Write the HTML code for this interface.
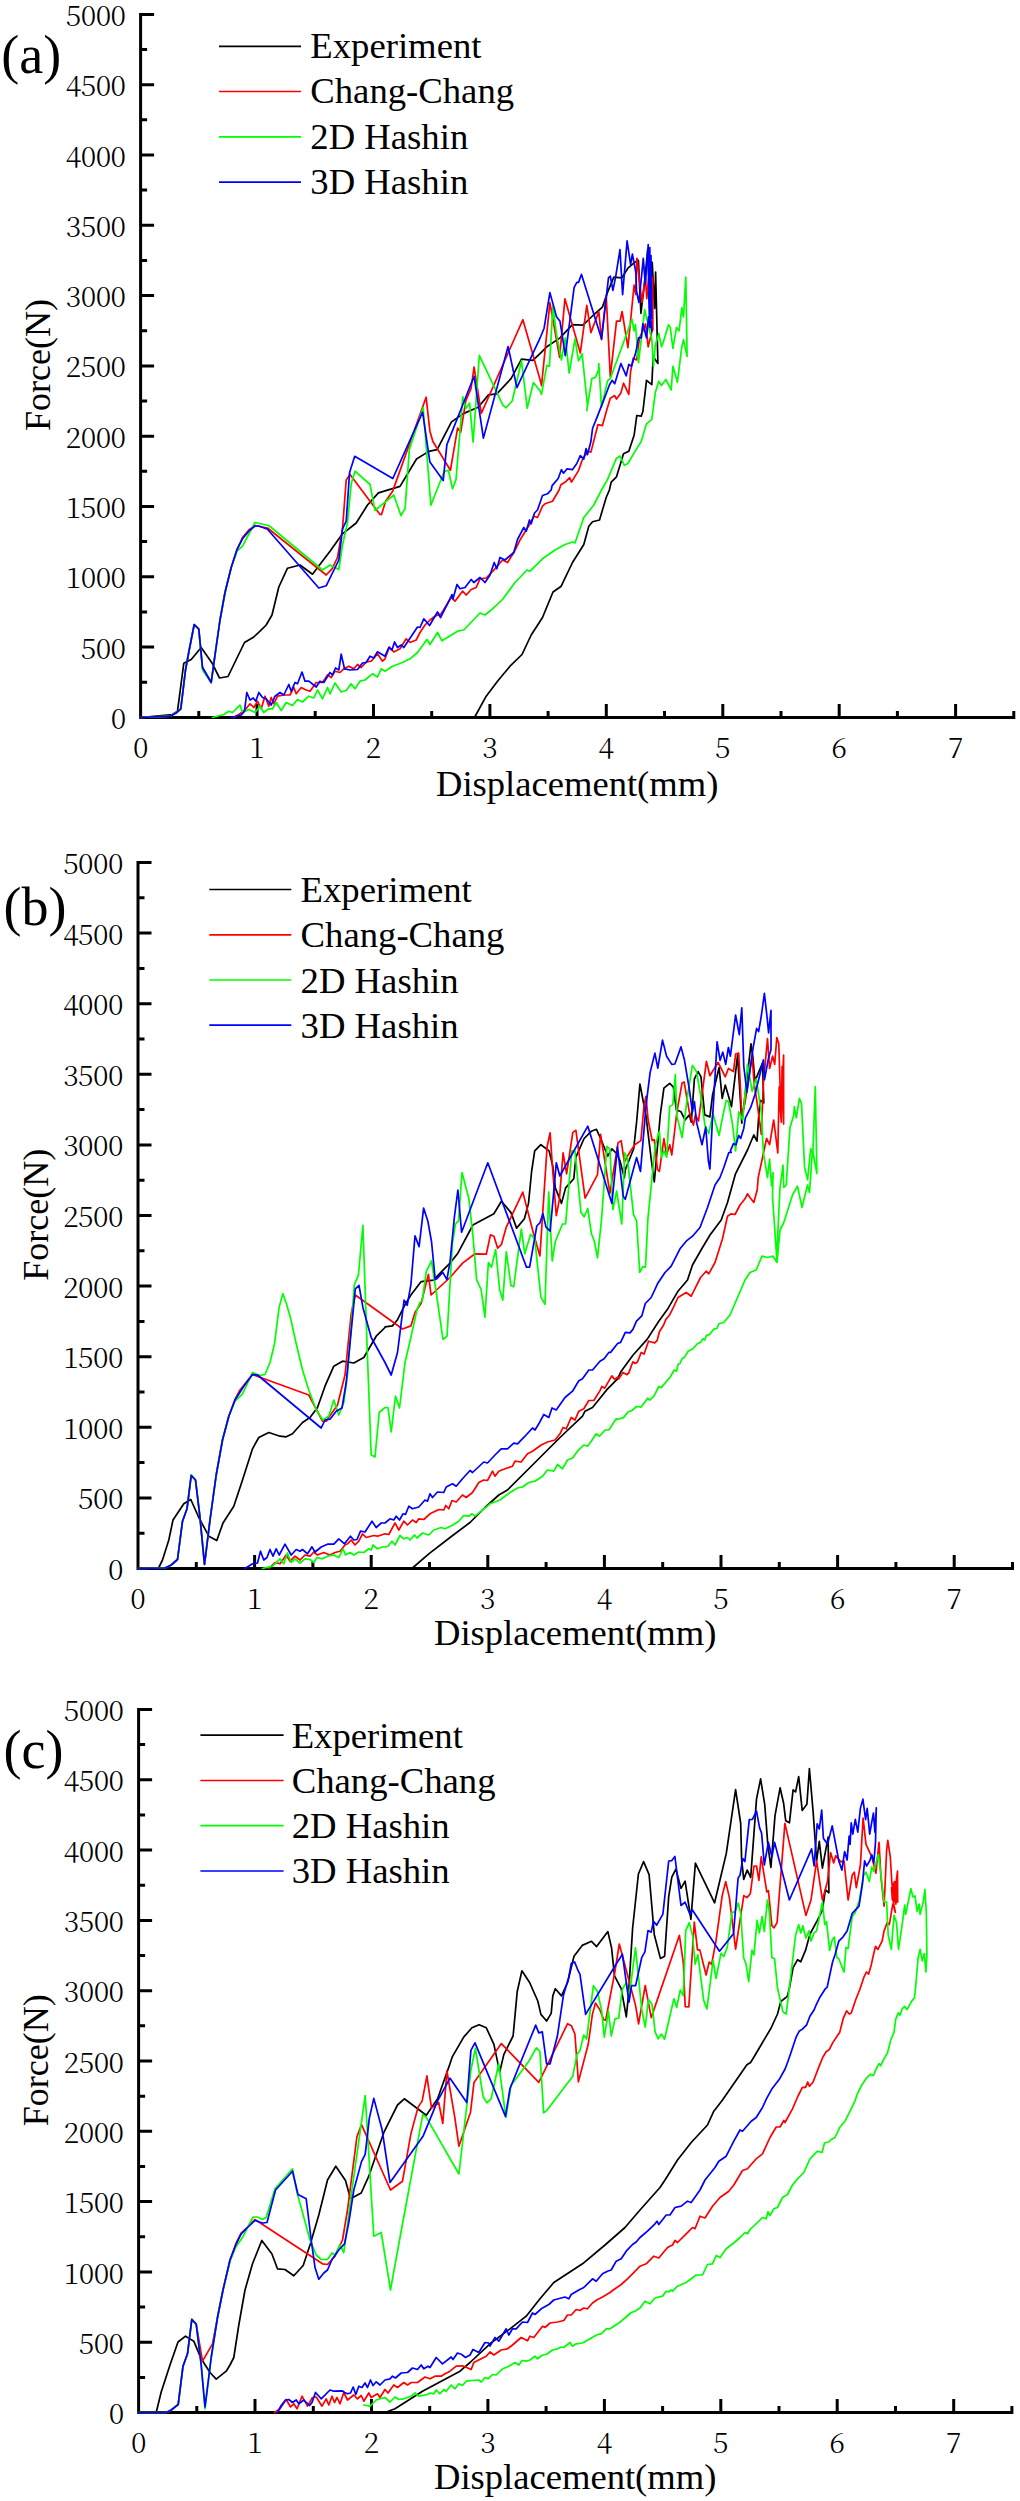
<!DOCTYPE html>
<html lang="en"><head><meta charset="utf-8"><title>Force-displacement curves</title>
<style>
html,body{margin:0;padding:0;background:#fff}
svg{display:block}
text{font-family:"Liberation Serif",serif;fill:#000}
.tk{font-family:"Noto Serif CJK SC","Liberation Serif",serif;font-weight:300;font-size:28.5px;letter-spacing:-0.45px}
.ttl{font-size:36.6px}
.yt{font-size:36px}
.lg{font-size:36.7px}
.tag{font-size:54px}
.ax{stroke:#000;stroke-width:3;fill:none;stroke-linecap:butt}
.cv{fill:none;stroke-width:1.7;stroke-linejoin:round;stroke-linecap:round}
</style></head><body>
<svg width="1020" height="2501" viewBox="0 0 1020 2501">
<rect width="1020" height="2501" fill="#fff"/>
<g id="chart0">
<path class="ax" d="M140.6,12.9V718.9M139.1,717.4H1015.3M140.6,682.2h6.5M140.6,647.1h13.5M140.6,611.9h6.5M140.6,576.8h13.5M140.6,541.6h6.5M140.6,506.5h13.5M140.6,471.3h6.5M140.6,436.2h13.5M140.6,401h6.5M140.6,365.9h13.5M140.6,330.7h6.5M140.6,295.6h13.5M140.6,260.4h6.5M140.6,225.3h13.5M140.6,190.1h6.5M140.6,155h13.5M140.6,119.8h6.5M140.6,84.7h13.5M140.6,49.5h6.5M140.6,14.4h13.5M198.8,717.4v-6.5M257,717.4v-13.5M315.2,717.4v-6.5M373.5,717.4v-13.5M431.7,717.4v-6.5M489.9,717.4v-13.5M548.1,717.4v-6.5M606.3,717.4v-13.5M664.5,717.4v-6.5M722.8,717.4v-13.5M781,717.4v-6.5M839.2,717.4v-13.5M897.4,717.4v-6.5M955.6,717.4v-13.5M1013.8,717.4v-6.5"/>
<polyline class="cv" stroke="#000000" points="140.5,717.5 172.5,714.5 177.5,711.2 183.8,663.2 191.2,659.5 201.2,647.5 212.5,663.8 219.5,678 228,676.5 244.5,642.5 253.8,637 260,631.2 266.2,625 272,615 278.8,587 287.5,568.2 300,565 312.5,574.2 330,551.2 342.5,533.8 356.2,523 367.5,505 378.4,492.9 400,486.4 416.5,459 428.8,451.4 437.1,449.7 451.5,421.9 463.8,413.4 478.2,407.2 488.5,394.9 496.8,393.8 511.2,378.4 521.5,359.2 532.8,360.3 540,353.7 546.8,346.8 560,337.9 572.4,324.7 582.9,325.2 593.5,315 602.4,307.1 607.6,292.1 613.8,277.1 621.8,277.9 627.9,268.2 634.1,262.9 638,260.3 638.4,260.4 640.9,313.3 644.3,284.9 647.7,249.6 649.2,288.8 652.2,262.4 654.6,308.4 655.6,272.2 657.9,363.5 653.2,356.5 651.8,384.7 646.5,380.3 642.9,411.5 641.2,416.2 636.8,415.5 634.1,435.3 628.8,451.2 623.5,453.8 616.5,476.8 611.2,482.1 609.4,490 606.2,497.5 599.5,520 592.5,521.8 588.8,526.2 583.8,544.5 572.5,562.5 561.2,586.2 553,592 542.5,617.5 531.2,635 522,654.5 510,666.2 497.5,681.2 486.2,696.2 474.5,717.5"/>
<polyline class="cv" stroke="#ff0000" points="140.5,717.5 170,716.2 176.2,712.5 180.8,708.8 185.5,670 189.2,650 194.2,624.5 198.8,629.2 202.5,667.5 211.2,682.5 215,655 220,620 225,592.5 231.2,567.5 237,549.5 242.5,537.5 248.8,530 255,525.5 267.5,528 326.2,575 332,568.8 337.5,557.5 342.5,528.8 346.2,480 350,474.5 380,514.5 381.5,514.6 385.6,501.2 392.8,490.9 426.1,397.2 429.9,431.2 432.9,441.5 450.4,470.3 457.6,428.1 460.7,432.2 465.9,400.3 471,388.7 474.1,367.1 481.3,413.4 522.9,319.7 540,379.4 541.5,385.6 549.9,302.6 559.6,357.4 564.9,298.8 580.3,352.9 586.8,305.3 590.9,332.6 598.8,311.5 601.5,339.7 606.2,295.6 610.3,376.8 616.5,321.2 620,321.2 622.1,311.5 627.9,347.6 634.1,285 635.9,294.7 636.8,258.5 637,258.4 641.9,302.5 645.3,277.1 646.8,298.6 649.2,271.2 652.8,279 652.8,330 652.1,330.9 648.2,346.8 645.6,323.8 642.9,330.9 639.4,337.9 636.8,360 633.2,358.2 630.6,371.5 628.8,394.4 623.5,383.2 620.9,392.9 616.5,399.1 614.7,395.6 610.3,398.2 606.8,409.7 602.4,425.6 597.9,424.7 590.9,452.1 588.2,451.2 582.9,458.2 578.5,470.6 571.5,482.1 569.7,477.6 565.3,482.1 560.9,484.7 559.1,490 552.5,501.2 545,503.8 542.5,506.2 537.5,517.5 533.8,516.2 530,523.8 526.2,530 520,540 513.8,552.5 507.5,562.5 502.5,560 495,568.8 486.2,578 480,578.8 476.2,587.5 471.2,589.5 466.2,595 462.5,591.2 455,601.2 451.2,597.5 441.2,613.8 435,616.2 430,620 425,625 420,632.5 416.2,640 410,642.5 406.2,638.8 400,648.8 393.8,652 389.5,647 385,658.8 382.5,661.2 377.5,653.8 371.2,661.2 366.2,662 361.2,667.5 357.5,664.5 353.8,668.8 348.8,666.2 343.8,668.8 340,672.5 335,671.2 331.2,677.5 327.5,675 322.5,682.5 316.2,682.5 310,691.2 305,689.5 301.2,687.5 296.2,693.8 293.8,687.5 290,695 283.8,695 277.5,696.2 273.8,703.8 271.2,697.5 268.8,706.2 265,696.2 261.2,708.8 257.5,701.2 253.8,707.5 250,703.8 245,710 240,713.8 233.8,717.5"/>
<polyline class="cv" stroke="#00ff00" points="140.5,717.5 170,716.2 176.2,713 180.8,708.8 185.5,670 189.2,650 194.2,624.5 198.8,629.2 202.5,670 211.2,682.5 215,655 220,620 225,592.5 231.2,567.5 237,551.2 242.5,546.2 255,522.5 268.8,525.5 322.5,570 330,565 338.8,569.5 342.5,545 347.5,522.5 351.2,483.8 355,471.2 370,484.5 375,510.5 393.8,495 401,515.6 405.1,508.4 409.3,449.7 423.1,407.5 430.9,505.3 444.3,471.3 448.4,470.3 452.5,488.8 456,479.6 462.8,396.9 465.9,408.2 469.6,403.1 473.1,442.2 479.3,355.3 502.9,405.1 506,407.8 512.2,401 521.5,360.9 527.2,408.2 533.4,382.5 540,390.7 541.5,394.4 546.8,365.3 549.4,366.2 552.9,306.2 556.5,334.4 561.4,360 565.3,337.9 569.2,373.2 575,338.8 578.5,360.9 582.1,353.8 587.4,405 586.8,410.6 591.8,378.8 595.6,377.1 598.5,370 598.8,363.5 601.5,407.1 607.6,380.6 610.3,378.5 632,319.4 634.1,330.9 635.5,324.7 638.5,362.6 644.7,309.7 651.8,339.7 653.5,366.2 655.3,345 658.8,333.5 661.5,346.8 663.2,342.4 668.5,324.7 670.3,327.4 672.9,348.5 676.5,327.4 679.1,330.9 681.8,307.9 683.5,316.8 685.8,277.1 687.1,356.5 683.5,339.7 681.8,346.8 677.4,382.1 672.9,366.2 671.2,390 665.9,379.4 661.5,385.6 658.8,381.2 655.3,392.6 651.8,419.4 646.5,423.8 641.2,441.5 634.1,452.9 627.9,463.5 624.4,465.3 620,456.1 616.5,458.2 607.6,479.4 601.5,490 593.8,505 583.8,517.5 575,543 572.5,542 565,544.5 555,550 542.5,558.8 530,571.2 527,570 515,582.5 502.5,599.5 492.5,608.8 485,615 480,613 463.8,630 457.5,631.2 442,640.8 437.5,632.5 430,644.5 427,639.5 417.5,652.5 410,658.8 402.5,662.5 392.5,666.2 385,671.2 381.2,668.8 377.5,677 372.5,673.8 365,680 360,681.2 355,688.8 351.2,683.8 346.2,690.5 341.2,692 335,683 330,693.8 327.5,687.5 322.5,698.8 317.5,690 313.8,698 308.8,696.2 302.5,702 297.5,699.5 292.5,705.5 286.2,702.5 281.2,710.5 276.2,702.5 272.5,708.8 268.8,708.8 263.8,712.5 260,706.2 255,712.5 248.8,709.5 242.5,712.5 240,705 236.2,708.8 232.5,712.5 228.8,711.2 223.8,714.5 212.5,717.5"/>
<polyline class="cv" stroke="#0000ff" points="140.5,717.5 170,716.2 176.2,713 180.8,708.8 185.5,670 189.2,650 194.2,624.5 198.8,629.2 202.5,667.5 211.2,682.5 215,655 220,620 225,592.5 231.2,567.5 237,549.5 242.5,538.8 248.8,531.2 255,526 258.8,526 267.5,529.2 318.8,588 326.2,585.8 338.8,560 342.5,528.8 346.2,521.2 349.6,472.4 354.7,456.3 392.8,478.5 422.6,412.2 429.9,462.1 443.2,480.6 446.9,444.6 474.1,376.3 483.4,438.1 508.1,346.5 516.9,387.6 540,338.2 544.1,328.2 549.9,292.6 556.5,316.8 560,321.2 565.3,355.6 574.1,287.6 576.8,282.4 578.5,282.4 581.5,274.4 601.5,338.8 608.5,277.9 610.3,276.2 612.9,290.3 615.6,277.1 620,249.7 622.6,294.7 627.1,240.9 630.6,264.7 632.4,254.1 635.9,272.6 636.5,290.8 638.9,302.5 643.3,258.4 645.3,284.9 648.2,244.7 649,298.6 649.8,247.6 650.4,310.4 651,255.5 651.6,318.2 650.7,284.9 649.7,327.1 648.7,292.7 651.8,330.9 648.6,316.8 646.5,337.9 642.9,323.8 641.2,337.9 638.5,337.9 635.9,352.1 631.5,366.2 628.8,364.4 626.2,375.9 620.9,363.5 614.7,383.8 612.1,380.3 609.4,385 604.1,399.1 596.2,419.4 592.6,428.2 590.9,441.5 587.4,454.7 586.1,448.5 583.8,459.1 580.3,455.6 576.8,463.5 572.4,469.7 567.1,468.8 563.5,473.2 561.4,469.7 558.2,478.5 552.1,485.6 551.2,490 550,491.2 547.5,493.8 542.5,495.5 537.5,510 534.5,513 531.2,523.8 529.5,520 526.2,531.2 523.8,527.5 517.5,539.5 513.8,552.5 505,560 500,557.5 496.8,568.8 494.2,562.5 490,575 485,582.5 480,577.5 473.8,582.5 471.2,579.5 465,587.5 460,588.8 457,584.5 453,598.8 452,594.5 447.5,603.8 440.5,617.5 437.5,612 429.5,625.5 423.8,618.8 420,627.5 417.5,627 403.8,647.5 401.2,645 397.5,647.5 394.5,642 392,650 388.8,647.5 385,656.2 377.5,651.8 373.8,658 370,656.2 366.2,662.5 362.5,663 357.5,669.5 350,670 344.5,668.8 341.2,654.2 338.8,670 335.5,668 332.5,675 330,672.5 323.8,682.5 320,681.2 316.2,687 308.8,681.2 305,681.2 302,672 297.5,683.8 295,682.5 291.2,691.2 288.8,684.5 283.8,695 280,692.5 275,696.2 271.2,705 266.2,698.8 262.5,697.5 258.8,692.5 255.8,701.2 253.2,698 250,700 246.8,692.5 244.5,711.2 241.2,715 231.2,717.5"/>
<text class="tk" x="125.6" y="728.9" text-anchor="end">0</text>
<text class="tk" x="125.6" y="658.6" text-anchor="end">500</text>
<text class="tk" x="125.6" y="588.3" text-anchor="end">1000</text>
<text class="tk" x="125.6" y="518" text-anchor="end">1500</text>
<text class="tk" x="125.6" y="447.7" text-anchor="end">2000</text>
<text class="tk" x="125.6" y="377.4" text-anchor="end">2500</text>
<text class="tk" x="125.6" y="307.1" text-anchor="end">3000</text>
<text class="tk" x="125.6" y="236.8" text-anchor="end">3500</text>
<text class="tk" x="125.6" y="166.5" text-anchor="end">4000</text>
<text class="tk" x="125.6" y="96.2" text-anchor="end">4500</text>
<text class="tk" x="125.6" y="25.9" text-anchor="end">5000</text>
<text class="tk" x="140.4" y="758" text-anchor="middle">0</text>
<text class="tk" x="256.8" y="758" text-anchor="middle">1</text>
<text class="tk" x="373.3" y="758" text-anchor="middle">2</text>
<text class="tk" x="489.7" y="758" text-anchor="middle">3</text>
<text class="tk" x="606.1" y="758" text-anchor="middle">4</text>
<text class="tk" x="722.6" y="758" text-anchor="middle">5</text>
<text class="tk" x="839" y="758" text-anchor="middle">6</text>
<text class="tk" x="955.4" y="758" text-anchor="middle">7</text>
<text class="ttl" x="577.2" y="795.5" text-anchor="middle">Displacement(mm)</text>
<text class="yt" transform="translate(50.1,365.1) rotate(-90)" text-anchor="middle">Force(N)</text>
<text class="tag" x="1.2" y="72.7">(a)</text>
<line x1="219" y1="46.3" x2="301" y2="46.3" stroke="#000000" stroke-width="1.7"/>
<text class="lg" x="310.3" y="58.1">Experiment</text>
<line x1="219" y1="91.5" x2="301" y2="91.5" stroke="#ff0000" stroke-width="1.7"/>
<text class="lg" x="310.3" y="103.3">Chang-Chang</text>
<line x1="219" y1="136.8" x2="301" y2="136.8" stroke="#00ff00" stroke-width="1.7"/>
<text class="lg" x="310.3" y="148.6">2D Hashin</text>
<line x1="219" y1="182.1" x2="301" y2="182.1" stroke="#0000ff" stroke-width="1.7"/>
<text class="lg" x="310.3" y="193.9">3D Hashin</text>
</g>
<g id="chart1">
<path class="ax" d="M138,861V1570M136.5,1568.5H1014M138,1533.2h6.5M138,1497.9h13.5M138,1462.6h6.5M138,1427.3h13.5M138,1392h6.5M138,1356.7h13.5M138,1321.4h6.5M138,1286.1h13.5M138,1250.8h6.5M138,1215.5h13.5M138,1180.2h6.5M138,1144.9h13.5M138,1109.6h6.5M138,1074.3h13.5M138,1039h6.5M138,1003.7h13.5M138,968.4h6.5M138,933.1h13.5M138,897.8h6.5M138,862.5h13.5M196.3,1568.5v-6.5M254.6,1568.5v-13.5M312.9,1568.5v-6.5M371.2,1568.5v-13.5M429.5,1568.5v-6.5M487.8,1568.5v-13.5M546.1,1568.5v-6.5M604.4,1568.5v-13.5M662.7,1568.5v-6.5M721,1568.5v-13.5M779.3,1568.5v-6.5M837.6,1568.5v-13.5M895.9,1568.5v-6.5M954.2,1568.5v-13.5M1012.5,1568.5v-6.5"/>
<polyline class="cv" stroke="#000000" points="138,1568.5 158.8,1567.5 162.5,1560 168.8,1540 173,1520 183.8,1503.8 190.8,1499.5 198.8,1517.5 208.8,1536.2 216.8,1540.5 223,1523 233.8,1506.2 242.5,1480 252.5,1448.8 258.8,1437.5 268.8,1432.5 280,1436.2 286.2,1436.8 292.5,1433.8 302.5,1422.5 310,1417.5 317.5,1407.5 325,1386.2 333.8,1366.2 342.5,1361.2 353.8,1363 363.8,1357.5 376.2,1336.2 385,1327.5 385.1,1326.9 392.4,1325.9 397.5,1319.7 404.7,1305.3 410.9,1295 421.2,1281.6 433.5,1280.2 442.8,1270.3 450,1263.1 457.5,1253.8 472.9,1225 482.2,1219.9 493.9,1213.7 501.4,1201.3 511,1212.6 516.6,1228.1 524.4,1218.8 528.5,1203.4 531.6,1171.5 534.7,1150.9 540.9,1144.7 549.1,1150.9 552.8,1166.3 555.3,1187.9 561.5,1203.4 565.6,1187.9 573.8,1178.7 575.9,1157.1 584.1,1138.5 591.3,1131.3 596.5,1129.3 600.6,1138.5 607.8,1156 611.9,1148.8 617.1,1154 620.1,1161.2 624.3,1177.6 625.4,1169.4 633.7,1148.8 636.8,1120 639.9,1084 646,1115.9 651.2,1159.1 654.3,1181.8 660.4,1113.8 663.9,1088.1 669.7,1083.4 673.4,1087.1 676.3,1109.7 681,1111.8 685.1,1120 689.3,1114.9 691.3,1122.1 694.4,1078.8 698.1,1071.6 701,1076.8 704.7,1114.9 709.9,1116.9 712.5,1095.3 719.1,1067.5 722.2,1098.4 725.3,1085 731.5,1106.6 737.6,1055.1 741.8,1123.1 751,1043.8 752.8,1056.4 754.9,1081.1 762.5,1063.2 763.8,1103 760.4,1100.3 758.8,1115 757,1141.2 753.8,1135 747.5,1150 735.5,1173.8 727.5,1202.5 721.2,1220 710,1235 702.5,1247.5 692.5,1265 687.5,1280 678,1291.2 668.2,1308.2 658.8,1321.2 647.1,1339.4 632.9,1355.3 621.2,1371.2 617.6,1378.8 607.1,1389.4 600,1398.2 592.5,1407.5 585,1411.2 582.5,1416.2 560,1437.5 535,1462.5 507.5,1490 498.8,1495 485,1507.5 470,1522.5 450,1537.5 428.8,1553.8 412.5,1568"/>
<polyline class="cv" stroke="#ff0000" points="138,1568.5 165,1568 171.2,1565 177.5,1559.5 182.5,1521.2 187,1508.8 191.2,1475.5 195.5,1480 200,1517.5 204.5,1564.5 210,1520 216.2,1475 222.5,1440 228.8,1416.2 235,1399.5 240,1390 245,1383.8 252.5,1374.5 308.8,1395 322.5,1421.2 326.2,1421.2 337.5,1405 345,1375 351.2,1313.5 355.3,1295 402.6,1329 410.9,1325.9 415,1312.5 421.2,1303.2 426.3,1282.6 428.4,1274.4 431.1,1295 450,1277.5 462.6,1263.1 475,1253.8 486.3,1254.2 490.4,1234.9 493.9,1236.3 497.6,1248.1 501.4,1244.6 506.3,1227.1 522.8,1192.1 533.7,1234.3 539.9,1255.9 547.1,1146.8 550.1,1132.8 552.8,1171.5 556.3,1215.7 559.4,1199.3 563.1,1152.9 566.6,1173.9 572.8,1132.4 575.9,1130.3 585.1,1198.2 597.5,1174.6 600.6,1134.4 609.9,1193.1 618.1,1142.6 621.2,1140.6 624.3,1162.2 627.5,1156 634.7,1144.7 640.9,1140.6 644,1105.6 646,1096.3 648.1,1120 652.2,1140.6 654.3,1139.6 657.4,1169.4 659.4,1171.5 663.9,1138.5 666.6,1155 669.7,1144.7 671.8,1155 676.9,1111.8 682.1,1082.9 684.1,1081.9 689.3,1111.8 693.4,1125.1 695.4,1114.9 698.5,1121 706.4,1061.3 709.9,1075.7 718.1,1062.4 725.3,1076.8 728.4,1068.5 733.5,1071.6 735.6,1054.1 738.7,1053.1 741.8,1115.9 744.9,1103.5 752.1,1056.2 754.1,1082.9 757.2,1103.5 761.3,1134.4 763.4,1082.9 767.5,1038.7 769.6,1068.5 772.6,1056.2 774.7,1064.4 776.8,1037.6 778.8,1043.8 780.9,1111.8 783.6,1055.1 783.6,1124.1 782.1,1066.5 781.3,1122.1 780.5,1111.8 779.2,1087.1 777.8,1152.9 773.7,1120 769.6,1144.7 766.5,1138.5 761.3,1163.2 758.2,1177.6 757.2,1190 753.8,1202.5 750,1197.5 747.5,1193.8 745,1198.8 740,1205 735,1214.5 731.2,1213.8 727.5,1216.2 722.5,1238.8 715,1262.5 708.8,1273.8 706.2,1271.2 700.5,1277.5 696.2,1286.2 691.2,1296.2 686.2,1292.5 678,1297.5 673.5,1307.1 669.4,1315.3 665.9,1319.4 663.5,1325.3 659.4,1331.8 657.1,1340.6 654.7,1342.9 648.5,1341.2 644.1,1354.1 641.2,1352.4 637.6,1361.8 635.3,1363.5 632.9,1361.8 628.8,1372.9 627.1,1374.7 622.9,1372.4 618.8,1378.8 617.6,1377.1 614.7,1379.4 611.8,1375.9 604.7,1388.2 601.8,1386.5 600,1390.6 593.8,1400.5 588.8,1400.5 583.8,1408.8 578.8,1411.2 575,1420 571.2,1417.5 566.2,1428.8 563,1427.5 560,1433.8 555,1440 547.5,1442 541.2,1445 532.5,1451.2 527.5,1453.8 521.2,1462 515,1461.2 512.5,1466.2 505,1468.8 498.8,1471.2 495,1476.2 492.5,1471.2 487.5,1480.5 483.8,1480 478.8,1482.5 472.5,1492.5 466.2,1497.5 462.5,1495 456.2,1502 452,1500.5 448.8,1508.8 445.8,1505.5 443.8,1510 438.8,1509.5 430,1513.8 423.8,1519.5 418.8,1518.8 416.2,1522.5 412.5,1520 407.5,1525 403.8,1521.2 398.8,1530 395,1523 388.8,1534.5 385,1533.8 377.5,1536.2 373.8,1535.5 366.2,1537.5 362.5,1533.8 358.8,1541.2 355,1545 351.2,1540 347.5,1543.8 345,1545 340,1551.2 335,1552.5 330,1555 323.8,1552.5 317.5,1555 313.8,1552 310,1556.2 305,1555 300,1560 295,1556.2 290,1561.2 286.2,1555 280,1563.8 275,1562.5 268.8,1568.5"/>
<polyline class="cv" stroke="#00ff00" points="138,1568.5 165,1568 171.2,1565 177.5,1559.5 182.5,1521.2 187,1508.8 191.2,1474.5 195.5,1480 200,1517.5 204.5,1564.5 210,1520 216.2,1475 222.5,1440 228.8,1416.2 235,1401.2 242.5,1393.8 252.5,1372.5 260,1375.5 265,1374.5 270,1362.5 274.5,1343.8 279.1,1307.4 282.8,1293.6 286.3,1303.2 290.4,1317.6 296.2,1343.8 302.5,1370 308.8,1390 316.2,1410 323,1420 328.8,1416.2 333.8,1400 338.8,1415 343.8,1402.5 347.5,1375 354.3,1284.7 358.4,1275.4 362.9,1225.4 367.5,1357.5 371.2,1455 375,1457 379.2,1412.5 385,1407.5 388,1407.5 391.2,1432 395.5,1396.2 399.5,1408 405,1362.5 410,1341.2 417.1,1309.4 420.1,1302.2 422.2,1301.2 426.3,1271.3 431.5,1261 436.6,1295 443,1339.5 447,1336.2 452.4,1243.5 455.4,1224 458.5,1220.9 462,1172.5 468.8,1198.2 472.9,1235.3 476.6,1279.6 481.2,1289.9 484.9,1317.2 488.4,1262.5 491.5,1267.2 495.6,1249.7 499.7,1289.9 502.8,1300.1 506.3,1251.8 511,1285.7 513.7,1286.8 521.3,1229.1 524.8,1253.8 530.6,1234.3 534.7,1238.4 540.9,1297.1 545,1304.3 548.7,1192.1 552.2,1261 555.3,1241.5 562.5,1224 565.6,1224 571.8,1150.9 574.9,1150.9 581,1212.6 584.1,1216.8 587.8,1208.5 591.3,1233.2 594.4,1241.5 597.5,1257.9 601.6,1218.8 606.8,1146.4 609.9,1148.8 612.9,1209.6 616.6,1191 621.8,1224 624.7,1152.9 627.4,1158.1 633.5,1214.7 636.6,1220.9 639.7,1272.4 642.8,1266.6 645.5,1267.2 647.9,1218.8 655.3,1144.7 659.4,1131.3 661.5,1157.1 663.9,1150.9 666.6,1157.1 669.7,1106.6 672.8,1104.6 675.3,1074.7 676.9,1115.9 682.1,1137.5 688.2,1091.2 692.4,1065.4 696.5,1071.6 700.6,1095.3 705.1,1126.2 708.8,1133.4 712.9,1113.8 719.1,1135.4 722.8,1115.9 726.3,1100.4 728.4,1101.5 732.5,1124.1 735.6,1150.9 738.7,1111.8 742.8,1120 747.5,1064.4 752.1,1091.2 756.2,1078.8 761.3,1111.8 763.4,1152.9 767.5,1177.6 769.6,1159.1 771.6,1185.9 773.1,1172.5 772.5,1196.2 777,1262.5 777,1250 780,1187.5 783,1165 783.8,1187.5 786.2,1185 790,1127.5 793.8,1115 794.3,1106.6 796.3,1117.9 799.4,1098.4 801.5,1103.5 804.6,1167.4 807.6,1179.7 810.7,1148.8 812.8,1155 815.3,1086.6 816.9,1173.5 812.5,1150 809.5,1192.5 807.5,1185 802,1207.5 797.5,1186.2 792.5,1195 783.8,1222.5 780,1230 777,1262.5 773,1256.2 767.5,1257.5 762,1256.2 756.2,1270 750,1272.5 745,1280 737.5,1297.5 730,1315 723.8,1322.5 718.8,1323.8 717.1,1328.2 713.5,1329.4 709.4,1334.7 706.5,1335.3 704.7,1340 702.9,1338.8 700.6,1342.4 697.6,1343.5 692.9,1348.8 688.2,1351.2 684.1,1357.6 682.4,1358.2 680,1363.5 678.2,1364.1 676.5,1371.2 674.1,1370 670.6,1376.5 661.2,1387.6 658.8,1386.5 654.1,1395.9 650,1400 647.6,1398.2 641.2,1407.1 636.5,1406.5 631.8,1410.6 628.2,1411.8 623.5,1417.6 615.3,1420 616.2,1418.8 608.8,1430 605,1430 599.5,1436.2 596.2,1433.8 591.2,1441.2 587.5,1446.2 583.8,1445 577.5,1451.2 572.5,1458 567.5,1460 562.5,1468.8 557.5,1464.5 553.8,1471.2 547.5,1470 542.5,1476.2 535,1481.2 528.8,1482.5 522.5,1487 517.5,1488 510,1492.5 500,1500 490,1503.8 483.8,1508.8 475,1516.2 472,1513.8 468.8,1516.2 463.8,1515.5 458.8,1521.2 452,1525.5 445,1528.8 441.2,1527.5 433.8,1530 428.8,1535 422.5,1533 417,1538 414.5,1535 410,1540 407.5,1537.5 403.8,1538.8 400,1535.5 395,1545 392,1541.2 388,1546.2 385,1547 382.5,1547 377.5,1548.8 373,1545 371.2,1550 368.8,1548.8 363.8,1552.5 358.8,1552 353.8,1555 350,1552.5 345.5,1555 343,1548.8 338.8,1557.5 333.8,1555 327.5,1556.2 322.5,1558.8 317,1557.5 313.8,1562.5 310,1559.5 305,1558.8 300,1563 295,1558.8 291.2,1562.5 287.5,1553 283.8,1563.8 280,1558.8 272.5,1566.2 262.5,1568.5"/>
<polyline class="cv" stroke="#0000ff" points="138,1568.5 165,1568 171.2,1565 177.5,1559.5 182.5,1521.2 187,1508.8 191.2,1475.5 195.5,1480 200,1517.5 204.5,1564.5 210,1520 216.2,1475 222.5,1440 228.8,1416.2 235,1400 243.8,1386.2 252.5,1374.5 257.5,1375 321.2,1428 325,1420 330,1419.2 336.2,1411.2 342,1408 346.2,1382.5 355.3,1288.8 359,1285.3 362.9,1307.4 371.2,1337.5 385,1362.5 391.2,1375 397.5,1352.5 404.1,1300.1 407.2,1305.3 410.9,1284.7 415,1235.9 419.1,1246.6 423.6,1208.1 427.8,1220.9 431.5,1241.5 435.2,1279.6 437.2,1278.5 442.8,1272.4 446.9,1279.6 450,1262.1 454.4,1216.8 457.9,1190 461.6,1232.2 487.8,1162.8 526.5,1267.2 529.6,1267.2 536.8,1226 539.9,1222.9 542.9,1213.7 546,1227.1 550.1,1231.2 552.8,1202.4 556.3,1162.8 559.8,1176 587.8,1126.2 611.9,1203.4 617.5,1146.8 623.2,1196.2 625.3,1199.3 636.6,1157.5 640.5,1171.5 646,1105.6 650.1,1072.6 654.9,1053.1 657.8,1068.1 662.5,1040.1 666.6,1056.2 671.8,1064.4 674.9,1064 681,1046.9 684.5,1060.3 689.3,1089.1 692.4,1111.8 694.4,1101.5 696.5,1122.1 702,1144.7 705.7,1127.2 708.4,1161.2 709.9,1169 712.3,1122.1 717.1,1041.8 720.1,1060.3 722.8,1052.1 725.7,1064.4 728.4,1047.5 730.4,1056.2 735.6,1015 739.3,1034.6 741.8,1007.8 743.8,1066.5 746.9,1092.2 753.1,1047.9 756.6,1028.4 758.6,1031.5 761.3,1016 764.4,993.4 767.3,1019.3 768.6,1033 771,1010.4 771,1049.5 768.6,1057.7 764.5,1079.7 763.4,1059.8 759,1078.3 754.9,1094.8 750.8,1107.2 745.3,1118.1 743.8,1128.2 740.7,1138.5 738.7,1135.4 736,1144.7 733.5,1143.7 730.4,1150.9 731.2,1152.5 728.8,1152.5 723.8,1167.5 720,1177.5 715,1185 707.5,1207.5 700,1227.5 692.5,1236.2 686.2,1241.2 680,1248.8 671.2,1266.2 665,1272.5 657.5,1283.8 651.2,1297.5 645.3,1303.5 641.8,1315.9 636.5,1321.2 632.9,1329.4 630,1332.9 625.3,1332.4 620.6,1342.4 617.6,1343.5 610.6,1352.4 608.8,1352.4 604.1,1358.8 600,1361.2 592.5,1370 588.8,1370 582.5,1378.8 578.8,1380.8 572.5,1391.2 565,1397.5 556.2,1410 552,1408 548.8,1417.5 543.8,1414.5 538.8,1423.8 535,1430 532.5,1428 525,1436.2 517.5,1443.8 513.8,1443.2 507.5,1448.8 501.2,1448.8 495,1455 487.5,1463 483.8,1462 472.5,1472.5 470,1470.5 462.5,1478.8 456.2,1486.2 452.5,1483.8 446.2,1487 443.8,1492.5 437.5,1492 432.5,1497.5 430,1493.8 427.5,1501.2 425,1500 418.8,1507 412.5,1508.8 408.8,1506.2 405.5,1514.5 403,1513.8 399.5,1520 396.2,1516.2 393.8,1520 390,1518.8 385,1523 381.2,1523 376.2,1527.5 372,1521.2 365,1532 360.5,1531.2 357,1539.5 353.8,1540 350.5,1536.2 344.5,1543.8 338.8,1538.8 333.8,1544.2 327.5,1544.2 321.2,1547 315,1552 312,1546.8 307.5,1553.8 302.5,1549.5 300,1551.2 296.2,1549.5 291.2,1555 285,1544.2 279.2,1555 276.2,1548.8 273,1556.2 270,1549.5 267,1557.5 263.8,1560 260.5,1551.2 257.5,1563 252.5,1563.8 245,1568.5"/>
<text class="tk" x="123" y="1580" text-anchor="end">0</text>
<text class="tk" x="123" y="1509.4" text-anchor="end">500</text>
<text class="tk" x="123" y="1438.8" text-anchor="end">1000</text>
<text class="tk" x="123" y="1368.2" text-anchor="end">1500</text>
<text class="tk" x="123" y="1297.6" text-anchor="end">2000</text>
<text class="tk" x="123" y="1227" text-anchor="end">2500</text>
<text class="tk" x="123" y="1156.4" text-anchor="end">3000</text>
<text class="tk" x="123" y="1085.8" text-anchor="end">3500</text>
<text class="tk" x="123" y="1015.2" text-anchor="end">4000</text>
<text class="tk" x="123" y="944.6" text-anchor="end">4500</text>
<text class="tk" x="123" y="874" text-anchor="end">5000</text>
<text class="tk" x="137.8" y="1609.1" text-anchor="middle">0</text>
<text class="tk" x="254.4" y="1609.1" text-anchor="middle">1</text>
<text class="tk" x="371" y="1609.1" text-anchor="middle">2</text>
<text class="tk" x="487.6" y="1609.1" text-anchor="middle">3</text>
<text class="tk" x="604.2" y="1609.1" text-anchor="middle">4</text>
<text class="tk" x="720.8" y="1609.1" text-anchor="middle">5</text>
<text class="tk" x="837.4" y="1609.1" text-anchor="middle">6</text>
<text class="tk" x="954" y="1609.1" text-anchor="middle">7</text>
<text class="ttl" x="575.2" y="1644.8" text-anchor="middle">Displacement(mm)</text>
<text class="yt" transform="translate(47.5,1214.7) rotate(-90)" text-anchor="middle">Force(N)</text>
<text class="tag" x="3.5" y="924.9">(b)</text>
<line x1="209.3" y1="889.5" x2="291.3" y2="889.5" stroke="#000000" stroke-width="1.7"/>
<text class="lg" x="300.6" y="902">Experiment</text>
<line x1="209.3" y1="934.8" x2="291.3" y2="934.8" stroke="#ff0000" stroke-width="1.7"/>
<text class="lg" x="300.6" y="947.2">Chang-Chang</text>
<line x1="209.3" y1="980" x2="291.3" y2="980" stroke="#00ff00" stroke-width="1.7"/>
<text class="lg" x="300.6" y="992.5">2D Hashin</text>
<line x1="209.3" y1="1025.2" x2="291.3" y2="1025.2" stroke="#0000ff" stroke-width="1.7"/>
<text class="lg" x="300.6" y="1037.8">3D Hashin</text>
</g>
<g id="chart2">
<path class="ax" d="M138.6,1707.9V2414.1M137.1,2412.6H1013.4M138.6,2377.4h6.5M138.6,2342.3h13.5M138.6,2307.1h6.5M138.6,2272h13.5M138.6,2236.8h6.5M138.6,2201.6h13.5M138.6,2166.5h6.5M138.6,2131.3h13.5M138.6,2096.2h6.5M138.6,2061h13.5M138.6,2025.8h6.5M138.6,1990.7h13.5M138.6,1955.5h6.5M138.6,1920.4h13.5M138.6,1885.2h6.5M138.6,1850h13.5M138.6,1814.9h6.5M138.6,1779.7h13.5M138.6,1744.6h6.5M138.6,1709.4h13.5M196.8,2412.6v-6.5M255,2412.6v-13.5M313.3,2412.6v-6.5M371.5,2412.6v-13.5M429.7,2412.6v-6.5M487.9,2412.6v-13.5M546.1,2412.6v-6.5M604.4,2412.6v-13.5M662.6,2412.6v-6.5M720.8,2412.6v-13.5M779,2412.6v-6.5M837.2,2412.6v-13.5M895.5,2412.6v-6.5M953.7,2412.6v-13.5M1011.9,2412.6v-6.5"/>
<polyline class="cv" stroke="#000000" points="138,2412.5 156.2,2412.5 161.2,2392 170,2365 178,2342 185.5,2336.2 193.8,2341.2 201.2,2358.8 210,2372.5 216.2,2379.2 226.2,2371.2 230,2365 233.8,2357.5 238.8,2325 245,2290 252.5,2263.8 261.8,2240.5 271.8,2253.8 277.5,2268.8 285,2269.5 293.8,2275.8 303.2,2265.5 310,2245 318.8,2215 327.5,2180 335.8,2166.2 345.5,2180.5 350.5,2198.8 361.2,2193 368.8,2176.2 384.1,2131.8 397.5,2105 404.3,2098.8 426.3,2115.3 437.6,2098.8 450,2063.8 452.4,2056.6 463.7,2037.1 471.9,2027.8 479.1,2024.7 486.3,2027.8 493.9,2044.3 499.7,2072.1 503.8,2054.6 513.1,2036 517.2,1991.8 521.9,1970.8 529.6,1982.5 537.8,2001 540.9,2014.4 546.6,2021 551.2,2013.4 552.8,1995.9 555.3,1988.7 561.5,1995.9 567.6,1982.5 574,1956.3 582.2,1945.4 591.5,1941.3 596.6,1946.6 607.9,1931.6 611.6,1948.1 614.5,1975.9 621.2,1988.7 626.3,2016.9 628.4,1995.9 632.6,1928.5 638.4,1874 643.6,1861.6 649.1,1874.6 654.3,1934.7 660.4,1958.4 664.6,1956.3 668.7,1896.6 671.8,1877.1 675.9,1869.2 681,1888.4 685.1,1881.2 690.9,1919.3 695.4,1863.1 714.6,1902.8 726.3,1853.4 735.6,1789.6 740.7,1823.5 741.6,1858.8 743.7,1879.4 747.2,1870.1 750.7,1877.4 756.5,1799.1 760.6,1778.9 764.7,1804.3 767.8,1844.4 770.9,1867.5 775,1815.6 780.1,1787.8 783.6,1803.2 785.7,1820.7 789.4,1822.8 793.1,1789.9 795.6,1791.9 798.7,1776.5 802.2,1810.4 806.9,1804.3 809.4,1768.6 813.1,1811.5 816.6,1860.9 819.3,1841.3 822.4,1868.1 828.1,1837.2 828.9,1892.8 825.4,1889.7 822.4,1910.3 817.2,1920.6 810,1934 805.5,1950.4 800.7,1961.8 797.6,1959.7 793.1,1967.6 789.4,1988.1 787.3,1996.3 780.8,2001.5 777.5,2014 771.1,2028 753.8,2057.2 750.6,2062.5 746.9,2064.7 722.5,2099.9 713.8,2111.2 707.5,2125 691.2,2142.5 677.5,2160 665,2180 660,2187.5 640,2210 625,2227.5 605,2245 582.5,2263.8 553.8,2282.5 540,2298.8 526.2,2316.2 510,2328.8 490,2343.8 470,2362.5 460,2371.2 422.5,2391.2 395,2408.8 385,2412.5"/>
<polyline class="cv" stroke="#ff0000" points="138,2412.5 166.2,2412.5 171.2,2410 178.2,2404.5 183,2366.2 187.5,2353.8 191.8,2319.5 196.2,2324.2 202.5,2361.2 212.5,2343.8 217.5,2317.5 223,2290 230,2260 236.2,2243 241.2,2233 247.5,2227 255,2219.5 322.5,2263.8 327.5,2264.5 335,2256.2 342.5,2240 347.5,2210 356.9,2136.9 361.5,2124.6 390.5,2190 402.5,2181.2 410.9,2133.8 418.1,2107.1 422.2,2100.9 426.9,2075.8 431.5,2108.1 438.7,2102.5 442.8,2123.5 446.9,2071 454.8,2117.4 458.9,2146.2 470.5,2112.2 474,2082.4 501.4,2043.6 538.8,2082.4 567.6,2023.7 571.4,2025.7 574.9,2034 578.4,2081.9 588.2,2044.3 592.4,2014.4 595.4,2003.1 599.6,2009.3 603.7,2019.6 605.7,2020.2 615,1971.2 619.3,1944 635.5,2005.1 638.6,2023.9 645.2,1985.5 651.2,2017.6 679.4,1935.3 683.3,1962.7 685.2,2006.7 688.8,2007 694.3,1922 697.5,1949.9 699.8,1949.9 706.1,1975 709.2,1962 711.6,1964.3 716,1940.9 722.2,1895.6 725.7,1881.6 729.4,1897.6 735.6,1949.1 743.8,1895.6 746.9,1897.6 750.3,1893.8 754,1866 756.5,1866 758.9,1880.4 761.2,1856.8 766.8,1891.8 768.4,1890.7 771.9,1925.7 774,1927.8 777.1,1922.6 784.9,1823.4 805.9,1915.4 811,1900 816.6,1860.9 822.4,1900 827.5,1881.5 830.6,1852.6 833.7,1862.9 835.7,1855.7 840.9,1861.9 844,1860.9 848.1,1900 852.2,1875.3 854.3,1872.2 856.3,1887.6 860.4,1865 863.1,1818.1 866,1844.4 871.8,1856.8 875.9,1873.2 879,1842.4 881,1877.4 884.1,1906.2 886.6,1850.6 887.8,1840.3 890.3,1856.8 891.9,1883.5 893.2,1893.8 894.4,1881.5 895.4,1897.9 896.5,1879.4 897.5,1871.2 897.7,1902.1 896.7,1883.5 895.9,1904.1 894.8,1881.5 894,1902.1 893.2,1883.5 892.4,1900 891.5,1887.6 893.4,1902.1 895.4,1912.4 892.8,1904.1 889.3,1924.7 887.2,1922.6 884.1,1930.9 882.1,1941.2 877.9,1949.4 875.5,1946.3 872.8,1957.6 871.4,1964.4 868.6,1974.1 866.4,1972 863.8,1977.4 859.9,1989.2 855.6,2000 851.3,2012.9 849.2,2014 846.6,2010.8 843.3,2018.3 839.7,2032.4 837.5,2035.6 832.5,2043.1 829.3,2049.6 826.1,2051.8 822.8,2057.2 818.5,2067.9 813.1,2082 809.5,2086.3 807.7,2082 805.6,2087.4 802.4,2087.4 798,2096 792.5,2108.8 785,2122.5 783.8,2120.5 780,2127 776.2,2127 770,2137.5 762.5,2153.8 756.2,2158.8 747.5,2168.8 742.5,2170.5 733.8,2185 728.8,2191.2 720,2197.5 712.5,2206.2 705,2218 700,2216.2 695,2228.8 692.5,2227.5 686.2,2233.8 677.5,2242.5 675,2240.5 672.5,2245 667.5,2247.5 658.8,2258 653.8,2256.2 646.2,2263.8 640,2266.2 632.5,2273.8 627.5,2278.8 621.2,2284.5 615,2288.8 610,2292.5 602.5,2297 597.5,2299.5 592.5,2303 587.5,2308.8 583.8,2308 580,2310.5 576.2,2309.5 571.2,2315 567.5,2315 563.8,2320.5 557.5,2322 550,2323 545,2327.5 542.5,2326.2 533.8,2337.5 530,2336.2 527.5,2340.8 521.2,2337.5 512.5,2345 507.5,2348.8 501.2,2350 493.8,2355 490,2352 486.2,2356.2 481.2,2358.8 473.8,2362.5 471.2,2369.5 462.5,2365.8 456.2,2366.2 450,2371.2 445,2373.8 441.2,2376.2 435,2376.2 430,2378.8 425,2377 417.5,2382.5 411.2,2382.5 407.5,2385 403.8,2382.5 397.5,2387.5 393.8,2385 388,2393 385,2389.5 380,2397.5 377.5,2393.8 371.2,2397.5 368.8,2393 363.8,2401.2 361.2,2395.5 357.5,2398.8 353.8,2395 347.5,2400 343.8,2392.5 340,2403.8 337,2397.5 334.5,2402.5 332,2396.2 328.8,2405 326.2,2398.8 322,2406.2 316.2,2397 312.5,2397.5 307.5,2406.2 302,2396.2 297,2408.8 293.8,2403.8 290.5,2407 286.2,2399.5 280,2408.8 274.5,2412.5"/>
<polyline class="cv" stroke="#00ff00" points="138,2412.5 166.2,2412.5 171.2,2410 178.2,2404.5 183,2366.2 187.5,2353.8 191.8,2318.8 196.2,2324.2 201.2,2365 205,2408.8 211.2,2357.5 217.5,2317.5 223,2290 230,2261.2 236.2,2246.2 242.5,2237.5 247.5,2227.5 253.2,2217 257.5,2217 262.5,2219.5 266.2,2217.5 275,2188.8 292.5,2168.8 297,2192.5 302.5,2212.5 310,2240 316.2,2255 321.2,2259.5 327.5,2259.5 332,2253 335,2255 340,2245 343.8,2252.5 347.5,2225 351.2,2195 365.2,2095.7 373.8,2236.2 381.2,2232.5 390.5,2290 400,2237.5 422.8,2114.3 426.3,2117.4 458.9,2174 470.9,2070 475.4,2048.4 483.2,2096.8 486.9,2102.9 491.1,2098.8 498.7,2063.8 505.9,2117.4 511,2085.4 528.5,2061.8 536.4,2047.8 539.9,2051.5 543.6,2112.8 547.1,2110.1 572.8,2076.2 576.9,2054.6 580,2050.4 583.7,2035 586.6,2039.1 593.4,1985.6 597.5,1991.8 601.6,2010.3 604.3,2037.1 608.4,2011.3 611.3,2036 615,2018.9 618.7,2018.1 622.2,1989.7 626.3,1982.5 629,1997.9 635.5,1947.8 638.6,1978.4 641.8,2009.8 645.2,2027.1 648.5,1999.6 652,2004.3 655.1,2031.8 658.2,2038.8 661.4,2034.1 664.5,2039.3 673.9,1998.8 676.7,2007.5 680.2,1990.2 683.3,1995.7 685.7,1930.6 689.3,1922.7 692.7,1936.1 695.1,1964.3 697.9,1954.6 703.7,2000.4 706.9,2009 713.1,1960.4 716,1978.4 721,1953.3 723.8,1956.5 727.3,1947.1 732,1912.2 734.8,1912.2 738.2,1903.1 740.6,1912.5 743.7,1958 746.1,1964.3 748.7,1981.6 752,1950.2 753.9,1954.9 757.1,1920.4 759.4,1932.9 762.1,1916.5 764.3,1931.4 767.4,1900 769.4,1912.4 771.9,1957.6 774.6,1958.7 777.5,1988.1 782.9,2011.9 786.2,2014 795.6,1935 798.7,1924.7 800.7,1932.9 802.8,1925.7 805.9,1938.1 809,1930.9 811,1941.2 814.1,1932.9 816.6,1930.9 822.4,1902.1 824.8,1924.7 826.5,1921.6 829.6,1950.4 832.2,1940.1 834.3,1937.1 836.8,1957.6 838.8,1958.7 844,1972 846,1947.4 848.1,1948.4 852.2,1916.5 855.3,1912.4 859.4,1900 863.5,1875.3 866,1872.2 869.3,1881.5 871.8,1867.1 873.8,1871.2 878.4,1854.3 881,1875.3 884.1,1902.1 886.6,1902.1 888.2,1935 891.3,1949.4 894,1915.4 896.5,1922.6 898.5,1949.4 901.6,1928.8 904.7,1905.1 905.7,1914.4 910.9,1888.7 912.9,1896.9 915,1895.9 917.1,1911.3 919.1,1904.1 920.1,1914.4 923.2,1902.1 924.9,1889.3 926.3,1912.4 926.9,1955.6 925.9,1972 924.3,1953.5 922.2,1960.7 920.1,1949.4 918.1,1957.6 917.1,1969.8 915.6,1987.1 914.5,1997.8 911.7,2001.1 907,2009.7 904.8,2006.5 902.2,2008.6 900.1,2015.1 898.3,2012.9 895.7,2019.4 894,2032.4 890.8,2039.9 887.5,2052.8 883.2,2060.4 880.6,2065.8 878.9,2063.6 875.7,2070.1 873.5,2075.5 870.3,2074.4 866,2078.7 861.7,2085.2 857.4,2093.8 855.2,2100.3 851.2,2108.8 845,2121.2 840,2127 835,2137.5 831.2,2139.5 828.8,2142 824.5,2143 822,2152.5 817.5,2151.2 810,2158.8 803.8,2172.5 797.5,2178.8 792.5,2185 787.5,2194.5 782.5,2197.5 777.5,2207.5 773.8,2208.8 770,2215.5 768,2211.8 766.2,2218.8 762.5,2217.5 757.5,2222.5 750,2229.5 747.5,2233.8 745,2232.5 740,2237.5 733.8,2243 726.2,2248.8 720,2257.5 716.2,2255.5 712.5,2263.8 707.5,2264.5 702.5,2275 696.2,2275 686.2,2282.5 677.5,2286.2 672.5,2291.2 671.2,2290 668.8,2292 666.2,2291.2 662.5,2296.2 655,2298 650,2303.8 645,2301.2 640,2308 635,2311.2 631.2,2312.5 625,2318 618.8,2323 613.8,2326.2 610,2328.8 606.2,2328.8 601.2,2333.8 597.5,2334.5 590,2338.8 582.5,2343 576.2,2343.8 572.5,2346.2 570,2342.5 563.8,2347.5 561.2,2347 557.5,2348.8 552.5,2350 546.2,2354.5 542.5,2355 537.5,2358.8 535,2356.2 530,2360 526.2,2361.2 522,2360.5 518.8,2365 515,2362.5 507.5,2367 502.5,2368.8 496.2,2375 492.5,2374.5 488,2378.8 485,2377.5 481.2,2382 478.8,2380 472.5,2380.5 466.2,2381.2 462.5,2385.5 458.8,2383.8 455,2388.8 451.2,2385 446.2,2391.2 443.8,2389.5 440,2393.8 436.2,2390 433.8,2393.8 430,2393 427.5,2394.5 418.8,2396.2 415,2393 411.2,2396.2 403.8,2398.8 398.8,2399.5 395,2397 390,2402 385,2397.5 380,2398.8 376.2,2400 370,2406.2 363.8,2405"/>
<polyline class="cv" stroke="#0000ff" points="138,2412.5 166.2,2412.5 171.2,2410 178.2,2404.5 183,2366.2 187.5,2353.8 191.8,2319.5 196.2,2324.2 201.2,2365 205,2407 211.2,2357.5 217.5,2317.5 223,2290 230,2260 236.2,2243.8 241.2,2233.8 247.5,2227.5 255,2220.5 262.5,2223 267,2222.5 275.5,2190 292.5,2171.2 298,2194.5 306.2,2198.8 311.2,2240 315,2267.5 318.8,2279.2 323.8,2273 327.5,2270 332,2259.5 338.8,2250 344.5,2243.8 348.8,2222.5 353.8,2190 361.5,2161.6 365.2,2154.4 369.3,2118.4 373.8,2098.4 382.1,2129.7 390,2182.5 395.4,2175 423.2,2135.9 437.6,2100.9 450,2078.2 466.8,2102.5 470.9,2050.4 475,2042.8 505.5,2116.3 510,2088.5 535.7,2025.1 538.8,2032.9 542.3,2031.9 546.6,2063.8 550.1,2063.8 557.4,2036 563.5,1994.9 568.7,1977.4 571.3,1963.5 574.6,1961.9 578.1,1970.7 580,1974.3 585.6,2014.4 615,1966 622.4,1954.3 629,2002.1 631.5,1985.6 635.6,1985.6 641.8,1957.3 644.9,1951.8 648,1930.6 651.2,1932.2 653.5,1921.2 656.7,1925.1 662.9,1914.1 668.7,1861 671.8,1860.6 674.9,1856.5 681,1905.5 685.1,1902.2 689.9,1914.1 692.4,1910 719.5,1951.2 733.5,1933.7 738.1,1878.1 740.1,1875 742.8,1858.5 744.9,1861.6 749.3,1819.7 752.4,1819.3 756.5,1811.1 759.6,1827.9 761.6,1833.1 764.3,1865 768.4,1842.4 771.9,1856.8 774.6,1842.4 789.4,1900 811.6,1848.9 814.1,1866 817.2,1823.8 819.3,1829 821.7,1810 823.4,1838.2 827.5,1844.4 832.2,1825.9 838.8,1860.9 841.9,1870.1 844.6,1851.6 847.1,1859.9 849.1,1836.2 850.1,1844.4 851.2,1822.8 852.8,1834.1 855.3,1819.3 857.8,1832.1 860.4,1808.4 862.9,1799.1 865.6,1819.7 867.2,1808.4 869.7,1834.1 871.8,1821.8 873.4,1813.1 874.9,1832.1 876.3,1807.8 875.5,1842.4 873.8,1862.9 871.8,1854.7 869.7,1860.9 866.6,1866 864.6,1860.9 862.5,1883.5 859,1906.2 852.2,1913.4 847.1,1930.9 842.9,1937.1 838.8,1941.2 835.1,1954.6 832.5,1962.3 827.2,1987.1 825,1989.2 819.6,1997.8 816.4,2004.3 814.2,2009.7 809.9,2016.2 806.7,2024.8 802.4,2029.1 799.1,2031.3 795.9,2037.7 790.5,2053.9 787.9,2061.5 785.1,2069 779.7,2078.7 772.2,2088.4 766.8,2098.1 762.5,2107.5 756.2,2117.5 751.2,2121.2 742.5,2131.2 740,2130 733.8,2141.2 726.2,2156.2 718.8,2161.2 715,2167.5 705,2180 700,2190 691.2,2202.5 687.5,2201.2 681.2,2206.2 675,2207.5 670,2215 666.2,2215 658.8,2224.5 657,2221.2 655,2223.8 647.5,2231.2 640,2237.5 636.2,2242 632.5,2244.5 626.2,2251.2 621.2,2258.8 616.2,2261.2 611.2,2270 607.5,2271.2 602.5,2273.8 596.2,2281.2 592.5,2278.8 583.8,2287.5 578.8,2290 571.2,2294.5 568.8,2298.8 565,2297 553.8,2300 548.8,2304.5 541.2,2308.8 535,2314.5 532.5,2313 527.5,2322.5 522.5,2322 516.2,2328.8 512.5,2328.8 508.8,2335 506.2,2328.8 498.8,2341.2 495,2337.5 490,2346.2 488.8,2343 485,2342.5 478.8,2352.5 473,2349.5 470,2355 465.5,2357.5 461.2,2354.2 457.5,2353 453,2359.5 451.2,2357 442.5,2363.8 436.2,2357.5 430,2367.5 428,2366.2 423.8,2368.8 421.2,2365 417.5,2369.5 412.5,2368 407.5,2372.5 401.2,2373 395.5,2378 392.5,2376.2 390,2378.8 385,2380 380,2385 376.2,2381.8 373,2385.5 370.5,2380 367.5,2387.5 365,2383 362,2387.5 358.8,2386.2 355.8,2394.5 353.2,2387 350.5,2393 347.5,2393.8 344.5,2392.5 342.5,2390.8 333.8,2391.2 330,2390 321.2,2398.8 315.5,2392.5 312,2402.5 309.5,2405.5 303.8,2400 298.8,2403.8 296.2,2400 292.5,2402.5 288.8,2399.5 285.5,2400 281.2,2405.5 277.5,2412.5"/>
<text class="tk" x="123.6" y="2424.1" text-anchor="end">0</text>
<text class="tk" x="123.6" y="2353.8" text-anchor="end">500</text>
<text class="tk" x="123.6" y="2283.5" text-anchor="end">1000</text>
<text class="tk" x="123.6" y="2213.1" text-anchor="end">1500</text>
<text class="tk" x="123.6" y="2142.8" text-anchor="end">2000</text>
<text class="tk" x="123.6" y="2072.5" text-anchor="end">2500</text>
<text class="tk" x="123.6" y="2002.2" text-anchor="end">3000</text>
<text class="tk" x="123.6" y="1931.9" text-anchor="end">3500</text>
<text class="tk" x="123.6" y="1861.5" text-anchor="end">4000</text>
<text class="tk" x="123.6" y="1791.2" text-anchor="end">4500</text>
<text class="tk" x="123.6" y="1720.9" text-anchor="end">5000</text>
<text class="tk" x="138.4" y="2453.2" text-anchor="middle">0</text>
<text class="tk" x="254.8" y="2453.2" text-anchor="middle">1</text>
<text class="tk" x="371.3" y="2453.2" text-anchor="middle">2</text>
<text class="tk" x="487.7" y="2453.2" text-anchor="middle">3</text>
<text class="tk" x="604.2" y="2453.2" text-anchor="middle">4</text>
<text class="tk" x="720.6" y="2453.2" text-anchor="middle">5</text>
<text class="tk" x="837" y="2453.2" text-anchor="middle">6</text>
<text class="tk" x="953.5" y="2453.2" text-anchor="middle">7</text>
<text class="ttl" x="575.2" y="2488.7" text-anchor="middle">Displacement(mm)</text>
<text class="yt" transform="translate(48.1,2060.2) rotate(-90)" text-anchor="middle">Force(N)</text>
<text class="tag" x="3.5" y="1768">(c)</text>
<line x1="200.4" y1="1735.2" x2="283.6" y2="1735.2" stroke="#000000" stroke-width="1.7"/>
<text class="lg" x="291.7" y="1747.5">Experiment</text>
<line x1="200.4" y1="1780.5" x2="283.6" y2="1780.5" stroke="#ff0000" stroke-width="1.7"/>
<text class="lg" x="291.7" y="1792.8">Chang-Chang</text>
<line x1="200.4" y1="1825.7" x2="283.6" y2="1825.7" stroke="#00ff00" stroke-width="1.7"/>
<text class="lg" x="291.7" y="1838">2D Hashin</text>
<line x1="200.4" y1="1871" x2="283.6" y2="1871" stroke="#0000ff" stroke-width="1.7"/>
<text class="lg" x="291.7" y="1883.2">3D Hashin</text>
</g>
</svg></body></html>
